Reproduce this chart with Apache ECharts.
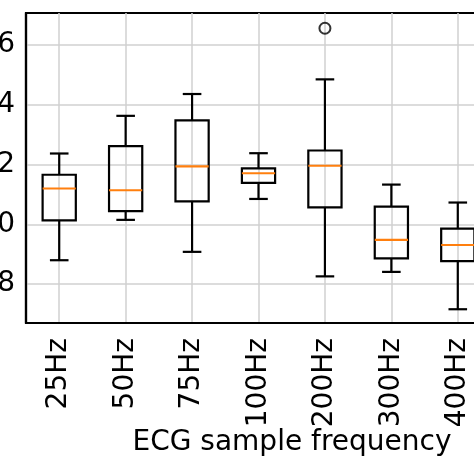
<!DOCTYPE html>
<html>
<head>
<meta charset="utf-8">
<script src="https://cdn.jsdelivr.net/npm/echarts@6/dist/echarts.min.js"></script>
<style>
  html, body { margin: 0; padding: 0; background: #fff; }
  #main { width: 474px; height: 474px; }
</style>
</head>
<body>
<div id="main"></div>
<script>
var categories = ['25Hz', '50Hz', '75Hz', '100Hz', '200Hz', '300Hz', '400Hz'];
var lowWhisker = [0.880, 1.015, 0.908, 1.085, 0.826, 0.841, 0.716];
var q1 = [1.013, 1.044, 1.077, 1.139, 1.057, 0.886, 0.877];
var median = [1.120, 1.114, 1.194, 1.171, 1.196, 0.948, 0.931];
var q3 = [1.166, 1.262, 1.348, 1.187, 1.247, 1.059, 0.986];
var highWhisker = [1.237, 1.363, 1.436, 1.238, 1.485, 1.133, 1.073];
var outliers = [['200Hz', 1.656]];

var font = 'DejaVu Sans';

var boxData = categories.map(function (c, i) {
    return [i, lowWhisker[i], q1[i], median[i], q3[i], highWhisker[i]];
});

function renderBox(params, api) {
    var x = api.value(0);
    var pLow = api.coord([x, api.value(1)]);
    var pQ1 = api.coord([x, api.value(2)]);
    var pMed = api.coord([x, api.value(3)]);
    var pQ3 = api.coord([x, api.value(4)]);
    var pHigh = api.coord([x, api.value(5)]);
    var band = api.size([1, 0])[0];
    var hw = band * 0.25;
    var cw = band * 0.14;
    var cx = pMed[0];
    var st = { stroke: '#000', lineWidth: 2.2 };
    return {
        type: 'group',
        children: [
            { type: 'line', shape: { x1: cx, y1: pHigh[1], x2: cx, y2: pQ3[1] }, style: st },
            { type: 'line', shape: { x1: cx, y1: pQ1[1], x2: cx, y2: pLow[1] }, style: st },
            { type: 'line', shape: { x1: cx - cw, y1: pHigh[1], x2: cx + cw, y2: pHigh[1] }, style: st },
            { type: 'line', shape: { x1: cx - cw, y1: pLow[1], x2: cx + cw, y2: pLow[1] }, style: st },
            { type: 'rect', shape: { x: cx - hw, y: pQ3[1], width: hw * 2, height: pQ1[1] - pQ3[1] },
              style: { fill: 'none', stroke: '#000', lineWidth: 2.2 } },
            { type: 'line', shape: { x1: cx - hw, y1: pMed[1], x2: cx + hw, y2: pMed[1] },
              style: { stroke: '#ff7f0e', lineWidth: 2.2 } }
        ]
    };
}

var myChart = echarts.init(document.getElementById('main'));
var option = {
    backgroundColor: '#fff',
    animation: false,
    grid: {
        left: 26, top: 13, width: 465, height: 310,
        containLabel: false,
        outerBoundsMode: 'none',
        show: true, borderColor: '#000', borderWidth: 2.2
    },
    xAxis: {
        type: 'category',
        data: categories,
        axisLine: { show: true, lineStyle: { color: '#000', width: 2.2 } },
        axisTick: { show: false },
        splitLine: { show: true, alignWithLabel: true, lineStyle: { color: '#d0d0d0', width: 1.5 } },
        axisLabel: { rotate: 90, margin: 15, fontFamily: font, fontSize: 28, color: '#000' }
    },
    yAxis: {
        type: 'value',
        min: 0.67,
        max: 1.707,
        splitNumber: 5,
        axisLine: { show: true, lineStyle: { color: '#000', width: 2.2 } },
        axisTick: { show: false },
        splitLine: { show: true, showMinLine: false, showMaxLine: false,
                     lineStyle: { color: '#d0d0d0', width: 1.5 } },
        axisLabel: {
            margin: 11, fontFamily: font, fontSize: 28, color: '#000',
            showMinLabel: false, showMaxLabel: false,
            formatter: function (v) { return v.toFixed(1); }
        }
    },
    graphic: [{
        type: 'text', x: 292, y: 443,
        style: { text: 'ECG sample frequency', fontFamily: font, fontSize: 28, fill: '#000',
                 textAlign: 'center', textVerticalAlign: 'middle' }
    }],
    series: [{
        type: 'custom',
        renderItem: renderBox,
        encode: { x: 0, y: [1, 2, 3, 4, 5] },
        data: boxData
    }, {
        type: 'scatter',
        symbol: 'circle',
        symbolSize: 11,
        itemStyle: { color: 'rgba(0,0,0,0)', borderColor: '#000', borderWidth: 2 },
        data: outliers
    }]
};
myChart.setOption(option);
</script>
</body>
</html>
